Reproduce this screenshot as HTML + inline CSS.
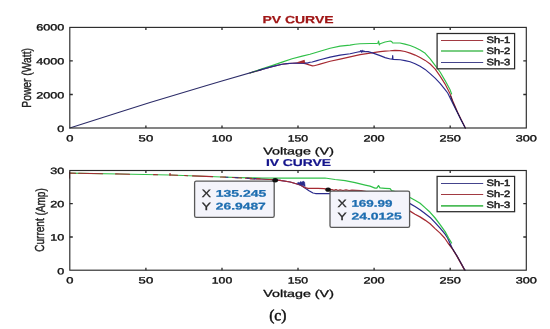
<!DOCTYPE html>
<html><head><meta charset="utf-8"><title>PV / IV curves</title>
<style>
html,body{margin:0;padding:0;background:#fff;}
body{width:550px;height:329px;overflow:hidden;}
svg{display:block;}
text{font-family:"Liberation Sans",Arial,Helvetica,sans-serif;}
.b{font-weight:bold;}
.serif{font-family:"Liberation Serif","Times New Roman",serif;}
</style></head><body>
<svg width="550" height="329" viewBox="0 0 550 329">
<rect width="550" height="329" fill="#fff"/>
<g>
<rect width="550" height="329" fill="#fff"/>

<g>
<polyline points="250.0,73.0 262.0,69.4 272.0,66.6 282.1,64.3 287.1,63.6 292.1,63.3 296.6,63.1 301.0,63.0 305.2,63.6 309.2,64.9 312.5,65.9 314.2,65.8 317.0,65.0 320.0,64.1 330.1,61.3 340.1,59.1 350.1,56.9 360.1,54.6 370.1,53.1 380.1,51.6 385.0,51.1 390.2,50.8 395.0,50.4 400.1,50.6 405.0,51.5 410.1,53.1 415.1,55.1 420.1,57.6 425.2,60.4 430.2,64.0 435.2,69.1 440.1,76.1 445.1,84.1 449.7,93.0 452.8,101.0 457.5,112.0 461.4,120.1 463.9,125.0 465.4,128.0" fill="none" stroke="#a62a32" stroke-width="1.15" stroke-linejoin="round" stroke-linecap="round" />
<polyline points="250.0,73.0 262.0,68.9 272.0,65.6 282.1,62.1 292.1,58.7 302.2,56.1 310.0,54.3 320.0,51.2 330.1,48.2 340.1,46.1 350.0,45.1 355.0,44.3 360.0,43.7 370.1,43.5 376.1,43.5 377.8,43.3 378.6,41.0 379.3,45.0 380.1,43.8 385.1,42.0 389.0,41.2 390.2,41.0 391.7,41.6 392.7,43.0 400.0,43.0 405.0,44.1 410.1,45.5 415.1,47.5 420.1,50.0 425.2,53.3 430.2,58.8 435.1,65.3 440.1,72.0 445.1,80.6 450.2,90.1 451.6,94.0" fill="none" stroke="#30c048" stroke-width="1.15" stroke-linejoin="round" stroke-linecap="round" />
<polyline points="258.0,70.6 262.0,69.4 272.0,66.6 282.1,64.3 287.1,63.6 292.1,63.3 297.1,63.1 304.2,62.9 307.2,63.1 310.0,62.3 312.2,62.0 317.0,60.6 320.0,59.7 330.1,57.1 340.1,55.1 350.1,53.8 358.0,52.0 360.0,51.6 360.8,50.6 361.5,52.2 362.2,50.4 363.0,52.0 363.8,50.8 364.6,51.7 366.0,51.5 368.1,51.6 373.1,53.1 380.1,55.6 385.1,57.6 390.2,59.0 392.4,59.1 392.7,55.5 393.0,59.4 400.2,59.8 405.0,60.6 410.1,61.8 415.1,63.8 420.1,66.3 425.1,69.4 430.1,73.6 435.1,78.1 440.1,83.3 445.1,89.6 447.7,93.0 452.1,102.0 457.1,112.1 461.1,120.1 463.7,125.0 465.2,128.0" fill="none" stroke="#2a2a8c" stroke-width="1.15" stroke-linejoin="round" stroke-linecap="round" />
<polyline points="69.8,128.0 120.0,112.0 150.0,102.6 170.0,96.4 205.0,86.0 221.9,81.0 262.0,69.4" fill="none" stroke="#2c2c68" stroke-width="1.05" stroke-linejoin="round" stroke-linecap="round" />
<polyline points="450.6,96.0 452.5,101.5 457.3,112.0 461.2,120.1 463.8,125.0 465.3,128.0" fill="none" stroke="#2a1a48" stroke-width="1.0" stroke-linejoin="round" stroke-linecap="round" />
<polygon points="296.4,62.7 300,61.3 304.6,59.7 305.1,63 300,62.9" fill="#a62a32"/>
</g>
<rect x="69.8" y="27.4" width="456.5" height="100.6" fill="none" stroke="#2a2a2a" stroke-width="1.15"/>
<path d="M145.9 128.0v-2.5M145.9 27.4v2.5" stroke="#2a2a2a" stroke-width="1.3"/>
<path d="M222.0 128.0v-2.5M222.0 27.4v2.5" stroke="#2a2a2a" stroke-width="1.3"/>
<path d="M298.0 128.0v-2.5M298.0 27.4v2.5" stroke="#2a2a2a" stroke-width="1.3"/>
<path d="M374.1 128.0v-2.5M374.1 27.4v2.5" stroke="#2a2a2a" stroke-width="1.3"/>
<path d="M450.2 128.0v-2.5M450.2 27.4v2.5" stroke="#2a2a2a" stroke-width="1.3"/>
<path d="M69.8 94.5h3.0M526.3 94.5h-3.0" stroke="#2a2a2a" stroke-width="1.3"/>
<path d="M69.8 60.9h3.0M526.3 60.9h-3.0" stroke="#2a2a2a" stroke-width="1.3"/>
<text x="64.2" y="132.1" transform="rotate(0.03 64.2 132.1)" font-size="9.2" text-anchor="end" textLength="7.0" lengthAdjust="spacingAndGlyphs" fill="#111" stroke="#111" stroke-width="0.35" >0</text>
<text x="64.2" y="98.4" transform="rotate(0.03 64.2 98.4)" font-size="9.2" text-anchor="end" textLength="28.0" lengthAdjust="spacingAndGlyphs" fill="#111" stroke="#111" stroke-width="0.35" >2000</text>
<text x="64.2" y="64.6" transform="rotate(0.03 64.2 64.6)" font-size="9.2" text-anchor="end" textLength="28.0" lengthAdjust="spacingAndGlyphs" fill="#111" stroke="#111" stroke-width="0.35" >4000</text>
<text x="64.2" y="30.5" transform="rotate(0.03 64.2 30.5)" font-size="9.2" text-anchor="end" textLength="28.0" lengthAdjust="spacingAndGlyphs" fill="#111" stroke="#111" stroke-width="0.35" >6000</text>
<text x="69.8" y="141.6" transform="rotate(0.03 69.8 141.6)" font-size="9.2" text-anchor="middle" textLength="7.2" lengthAdjust="spacingAndGlyphs" fill="#111" stroke="#111" stroke-width="0.35" >0</text>
<text x="145.9" y="141.6" transform="rotate(0.03 145.9 141.6)" font-size="9.2" text-anchor="middle" textLength="14.6" lengthAdjust="spacingAndGlyphs" fill="#111" stroke="#111" stroke-width="0.35" >50</text>
<text x="222.0" y="141.6" transform="rotate(0.03 222.0 141.6)" font-size="9.2" text-anchor="middle" textLength="20.4" lengthAdjust="spacingAndGlyphs" fill="#111" stroke="#111" stroke-width="0.35" >100</text>
<text x="298.0" y="141.6" transform="rotate(0.03 298.0 141.6)" font-size="9.2" text-anchor="middle" textLength="20.3" lengthAdjust="spacingAndGlyphs" fill="#111" stroke="#111" stroke-width="0.35" >150</text>
<text x="374.1" y="141.6" transform="rotate(0.03 374.1 141.6)" font-size="9.2" text-anchor="middle" textLength="21.2" lengthAdjust="spacingAndGlyphs" fill="#111" stroke="#111" stroke-width="0.35" >200</text>
<text x="450.2" y="141.6" transform="rotate(0.03 450.2 141.6)" font-size="9.2" text-anchor="middle" textLength="21.2" lengthAdjust="spacingAndGlyphs" fill="#111" stroke="#111" stroke-width="0.35" >250</text>
<text x="526.3" y="141.6" transform="rotate(0.03 526.3 141.6)" font-size="9.2" text-anchor="middle" textLength="21.2" lengthAdjust="spacingAndGlyphs" fill="#111" stroke="#111" stroke-width="0.35" >300</text>
<text x="298.6" y="154.5" transform="rotate(0.03 298.6 154.5)" font-size="10.0" text-anchor="middle" textLength="70.6" lengthAdjust="spacingAndGlyphs" fill="#111" stroke="#111" stroke-width="0.3" >Voltage (V)</text>
<text x="298" y="23.3" transform="rotate(0.03 298 23.3)" font-size="10.5" text-anchor="middle" textLength="71.2" lengthAdjust="spacingAndGlyphs" fill="#a01616" stroke="#a01616" stroke-width="0.2" class="b" >PV CURVE</text>
<text transform="translate(30.9 77.9) rotate(-89.97) scale(1 1.28)" font-size="10.2" text-anchor="middle" stroke="#222" stroke-width="0.3" textLength="59.6" lengthAdjust="spacingAndGlyphs" fill="#222">Power (Watt)</text>
<rect x="437.1" y="33.5" width="77.5" height="35.3" fill="#fff" stroke="#2a2a2a" stroke-width="1.25"/>
<path d="M441 40.5H483.2" stroke="#a23a42" stroke-width="1.1"/>
<text x="486.6" y="43.1" transform="rotate(0.03 486.6 43.1)" font-size="9.2" text-anchor="start" textLength="23.5" lengthAdjust="spacingAndGlyphs" fill="#222" stroke="#222" stroke-width="0.5" >Sh-1</text>
<path d="M441 51.0H483.2" stroke="#4cbc58" stroke-width="1.5"/>
<text x="486.6" y="54.1" transform="rotate(0.03 486.6 54.1)" font-size="9.2" text-anchor="start" textLength="23.5" lengthAdjust="spacingAndGlyphs" fill="#222" stroke="#222" stroke-width="0.5" >Sh-2</text>
<path d="M441 62.5H483.2" stroke="#44448c" stroke-width="1.1"/>
<text x="486.6" y="65.2" transform="rotate(0.03 486.6 65.2)" font-size="9.2" text-anchor="start" textLength="23.5" lengthAdjust="spacingAndGlyphs" fill="#222" stroke="#222" stroke-width="0.5" >Sh-3</text>
<g>
<polyline points="250.0,178.6 262.0,179.0 270.0,179.5 280.1,180.3 290.2,182.0 297.0,184.0 300.0,184.8 305.0,188.0 309.0,190.8 313.0,193.0 315.5,193.5 330.0,193.5 340.0,194.1 355.0,194.8 370.0,195.8 380.7,196.7 390.9,197.6 401.1,200.0 410.0,203.6 415.0,206.5 420.0,209.8 425.0,213.5 430.1,217.4 435.1,222.6 440.1,228.1 445.1,234.1 447.6,238.0 452.1,248.0 457.1,256.1 462.1,265.1 464.7,269.9 465.3,270.1" fill="none" stroke="#2a2a8c" stroke-width="1.25" stroke-linejoin="round" stroke-linecap="round" />
<polyline points="250.0,178.6 262.0,179.0 270.0,179.5 280.1,180.3 290.2,182.0 297.0,184.0 300.0,184.8 305.0,187.7 308.0,188.3 312.0,188.3 318.0,188.4 324.0,188.6 328.1,189.6 332.0,189.7 334.0,190.4 336.0,189.6 338.0,190.5 340.0,189.8 343.0,190.5 346.0,189.9 349.0,190.5 352.0,190.1 356.0,190.3 361.0,190.6 369.0,192.0 376.4,197.5 385.0,201.0 392.0,203.5 401.0,207.4 410.0,211.1 415.0,214.3 420.0,216.9 425.0,220.1 430.1,223.8 435.1,228.6 440.1,233.1 444.6,238.0 448.0,243.0 451.8,248.0 456.9,256.1 461.9,265.1 464.5,269.9" fill="none" stroke="#a62a32" stroke-width="1.25" stroke-linejoin="round" stroke-linecap="round" />
<polyline points="69.6,173.1 120.0,174.0 170.0,175.0 221.9,177.0 240.0,177.6 250.0,177.9 262.0,178.0 280.0,178.0 300.0,178.0 325.0,178.0 335.0,179.5 345.1,180.6 355.1,182.6 365.2,185.1 370.0,186.2 375.0,188.1 376.8,188.2 378.5,185.6 380.0,187.9 385.0,188.3 390.1,188.6 391.6,190.6 395.0,191.6 400.0,193.0 405.0,195.0 410.0,197.5 415.0,200.2 420.1,203.3 425.0,207.6 430.1,212.3 435.1,218.0 440.1,224.6 445.1,231.6 448.6,238.0 451.6,243.0" fill="none" stroke="#30c048" stroke-width="1.25" stroke-linejoin="round" stroke-linecap="round" />
<polyline points="449.5,244.5 452.0,248.0 457.0,256.1 462.0,265.1 464.6,269.9" fill="none" stroke="#2a1a48" stroke-width="1.0" stroke-linejoin="round" stroke-linecap="round" />
<polyline points="69.6,178.2 69.6,172.0" fill="none" stroke="#a62a32" stroke-width="1.0" stroke-linejoin="round" stroke-linecap="round" />
<polyline points="169.9,175.0 170.0,173.2 170.2,175.0" fill="none" stroke="#a62a32" stroke-width="0.9" stroke-linejoin="round" stroke-linecap="round" />
<polyline points="69.6,173.1 120.0,174.0 170.0,175.0 221.9,177.0 260.0,178.8" fill="none" stroke="#a62a32" stroke-width="1.1" stroke-linejoin="round" stroke-linecap="round" stroke-dasharray="6 3 24 13 14 24 4 12 8 7 3 5 20 8 5 7 9 4 6 5"/>
<polyline points="226.0,177.2 260.0,178.8" fill="none" stroke="#2a2a8c" stroke-width="1.0" stroke-linejoin="round" stroke-linecap="round" stroke-dasharray="2 7 3 9 2 5"/>
<polygon points="297.2,183.6 298,182.2 299.5,182.7 300.5,181.5 302,182.2 303,181.1 304.6,182 305.2,186.6 303,185.6 300,184.8" fill="#2a2a8c" stroke="#2a2a8c" stroke-width="0.5"/>
</g>
<rect x="69.8" y="170.5" width="456.5" height="99.7" fill="none" stroke="#2a2a2a" stroke-width="1.15"/>
<path d="M145.9 270.2v-2.5M145.9 170.5v2.5" stroke="#2a2a2a" stroke-width="1.3"/>
<path d="M222.0 270.2v-2.5M222.0 170.5v2.5" stroke="#2a2a2a" stroke-width="1.3"/>
<path d="M298.0 270.2v-2.5M298.0 170.5v2.5" stroke="#2a2a2a" stroke-width="1.3"/>
<path d="M374.1 270.2v-2.5M374.1 170.5v2.5" stroke="#2a2a2a" stroke-width="1.3"/>
<path d="M450.2 270.2v-2.5M450.2 170.5v2.5" stroke="#2a2a2a" stroke-width="1.3"/>
<path d="M69.8 237.0h3.0M526.3 237.0h-3.0" stroke="#2a2a2a" stroke-width="1.3"/>
<path d="M69.8 203.7h3.0M526.3 203.7h-3.0" stroke="#2a2a2a" stroke-width="1.3"/>
<text x="64.2" y="274.5" transform="rotate(0.03 64.2 274.5)" font-size="9.2" text-anchor="end" textLength="7.0" lengthAdjust="spacingAndGlyphs" fill="#111" stroke="#111" stroke-width="0.35" >0</text>
<text x="64.2" y="240.6" transform="rotate(0.03 64.2 240.6)" font-size="9.2" text-anchor="end" textLength="14.0" lengthAdjust="spacingAndGlyphs" fill="#111" stroke="#111" stroke-width="0.35" >10</text>
<text x="64.2" y="207.2" transform="rotate(0.03 64.2 207.2)" font-size="9.2" text-anchor="end" textLength="14.0" lengthAdjust="spacingAndGlyphs" fill="#111" stroke="#111" stroke-width="0.35" >20</text>
<text x="64.2" y="174.0" transform="rotate(0.03 64.2 174.0)" font-size="9.2" text-anchor="end" textLength="14.0" lengthAdjust="spacingAndGlyphs" fill="#111" stroke="#111" stroke-width="0.35" >30</text>
<text x="69.8" y="283.6" transform="rotate(0.03 69.8 283.6)" font-size="9.2" text-anchor="middle" textLength="7.2" lengthAdjust="spacingAndGlyphs" fill="#111" stroke="#111" stroke-width="0.35" >0</text>
<text x="145.9" y="283.6" transform="rotate(0.03 145.9 283.6)" font-size="9.2" text-anchor="middle" textLength="14.6" lengthAdjust="spacingAndGlyphs" fill="#111" stroke="#111" stroke-width="0.35" >50</text>
<text x="222.0" y="283.6" transform="rotate(0.03 222.0 283.6)" font-size="9.2" text-anchor="middle" textLength="20.4" lengthAdjust="spacingAndGlyphs" fill="#111" stroke="#111" stroke-width="0.35" >100</text>
<text x="298.0" y="283.6" transform="rotate(0.03 298.0 283.6)" font-size="9.2" text-anchor="middle" textLength="20.3" lengthAdjust="spacingAndGlyphs" fill="#111" stroke="#111" stroke-width="0.35" >150</text>
<text x="374.1" y="283.6" transform="rotate(0.03 374.1 283.6)" font-size="9.2" text-anchor="middle" textLength="21.2" lengthAdjust="spacingAndGlyphs" fill="#111" stroke="#111" stroke-width="0.35" >200</text>
<text x="450.2" y="283.6" transform="rotate(0.03 450.2 283.6)" font-size="9.2" text-anchor="middle" textLength="21.2" lengthAdjust="spacingAndGlyphs" fill="#111" stroke="#111" stroke-width="0.35" >250</text>
<text x="526.3" y="283.6" transform="rotate(0.03 526.3 283.6)" font-size="9.2" text-anchor="middle" textLength="21.2" lengthAdjust="spacingAndGlyphs" fill="#111" stroke="#111" stroke-width="0.35" >300</text>
<text x="298.6" y="296.9" transform="rotate(0.03 298.6 296.9)" font-size="10.0" text-anchor="middle" textLength="70.6" lengthAdjust="spacingAndGlyphs" fill="#111" stroke="#111" stroke-width="0.3" >Voltage (V)</text>
<text x="298.5" y="166.1" transform="rotate(0.03 298.5 166.1)" font-size="10.0" text-anchor="middle" textLength="65.2" lengthAdjust="spacingAndGlyphs" fill="#14148c" stroke="#14148c" stroke-width="0.2" class="b" >IV CURVE</text>
<text transform="translate(44.5 220.0) rotate(-89.97) scale(1 1.28)" font-size="10.2" text-anchor="middle" stroke="#222" stroke-width="0.3" textLength="63.6" lengthAdjust="spacingAndGlyphs" fill="#222">Current (Amp)</text>
<rect x="437.1" y="176.4" width="77.5" height="35.3" fill="#fff" stroke="#2a2a2a" stroke-width="1.25"/>
<path d="M441 183.5H483.2" stroke="#44448c" stroke-width="1.1"/>
<text x="486.6" y="186.0" transform="rotate(0.03 486.6 186.0)" font-size="9.2" text-anchor="start" textLength="23.5" lengthAdjust="spacingAndGlyphs" fill="#222" stroke="#222" stroke-width="0.5" >Sh-1</text>
<path d="M441 194.5H483.2" stroke="#a23a42" stroke-width="1.1"/>
<text x="486.6" y="197.0" transform="rotate(0.03 486.6 197.0)" font-size="9.2" text-anchor="start" textLength="23.5" lengthAdjust="spacingAndGlyphs" fill="#222" stroke="#222" stroke-width="0.5" >Sh-2</text>
<path d="M441 205.9H483.2" stroke="#4cbc58" stroke-width="1.6"/>
<text x="486.6" y="208.1" transform="rotate(0.03 486.6 208.1)" font-size="9.2" text-anchor="start" textLength="23.5" lengthAdjust="spacingAndGlyphs" fill="#222" stroke="#222" stroke-width="0.5" >Sh-3</text>
<rect x="194.6" y="181.2" width="79.6" height="36.2" rx="1.6" fill="#f4f4fb" stroke="#585858" stroke-width="1.3"/>
<text x="201.8" y="197.0" transform="rotate(0.03 201.8 197.0)" font-size="10.7" text-anchor="start" textLength="9.2" lengthAdjust="spacingAndGlyphs" fill="#2a2a2a" stroke="#2a2a2a" stroke-width="0.3" >X</text>
<text x="215.8" y="196.7" transform="rotate(0.03 215.8 196.7)" font-size="9.7" text-anchor="start" textLength="50.5" lengthAdjust="spacingAndGlyphs" fill="#1d6db0" stroke="#1d6db0" stroke-width="0.25" class="b" >135.245</text>
<text x="201.8" y="210.0" transform="rotate(0.03 201.8 210.0)" font-size="10.7" text-anchor="start" textLength="9.2" lengthAdjust="spacingAndGlyphs" fill="#2a2a2a" stroke="#2a2a2a" stroke-width="0.3" >Y</text>
<text x="215.8" y="209.6" transform="rotate(0.03 215.8 209.6)" font-size="9.7" text-anchor="start" textLength="50" lengthAdjust="spacingAndGlyphs" fill="#1d6db0" stroke="#1d6db0" stroke-width="0.25" class="b" >26.9487</text>
<rect x="330.0" y="191.2" width="79.6" height="36.2" rx="1.6" fill="#f4f4fb" stroke="#585858" stroke-width="1.3"/>
<text x="337.4" y="207.0" transform="rotate(0.03 337.4 207.0)" font-size="10.7" text-anchor="start" textLength="9.2" lengthAdjust="spacingAndGlyphs" fill="#2a2a2a" stroke="#2a2a2a" stroke-width="0.3" >X</text>
<text x="351.4" y="206.7" transform="rotate(0.03 351.4 206.7)" font-size="9.7" text-anchor="start" textLength="41" lengthAdjust="spacingAndGlyphs" fill="#1d6db0" stroke="#1d6db0" stroke-width="0.25" class="b" >169.99</text>
<text x="337.4" y="220.0" transform="rotate(0.03 337.4 220.0)" font-size="10.7" text-anchor="start" textLength="9.2" lengthAdjust="spacingAndGlyphs" fill="#2a2a2a" stroke="#2a2a2a" stroke-width="0.3" >Y</text>
<text x="351.4" y="219.6" transform="rotate(0.03 351.4 219.6)" font-size="9.7" text-anchor="start" textLength="50.5" lengthAdjust="spacingAndGlyphs" fill="#1d6db0" stroke="#1d6db0" stroke-width="0.25" class="b" >24.0125</text>
<ellipse cx="275.2" cy="180.2" rx="2.8" ry="2.2" fill="#111"/>
<ellipse cx="328.1" cy="189.7" rx="2.8" ry="2.1" fill="#111"/>
<text x="277.8" y="320.3" transform="rotate(0.03 277.8 320.3)" font-size="15.5" text-anchor="middle" class="serif" fill="#111" stroke="#111" stroke-width="0.5">(c)</text>
</g>
</svg>
</body></html>
